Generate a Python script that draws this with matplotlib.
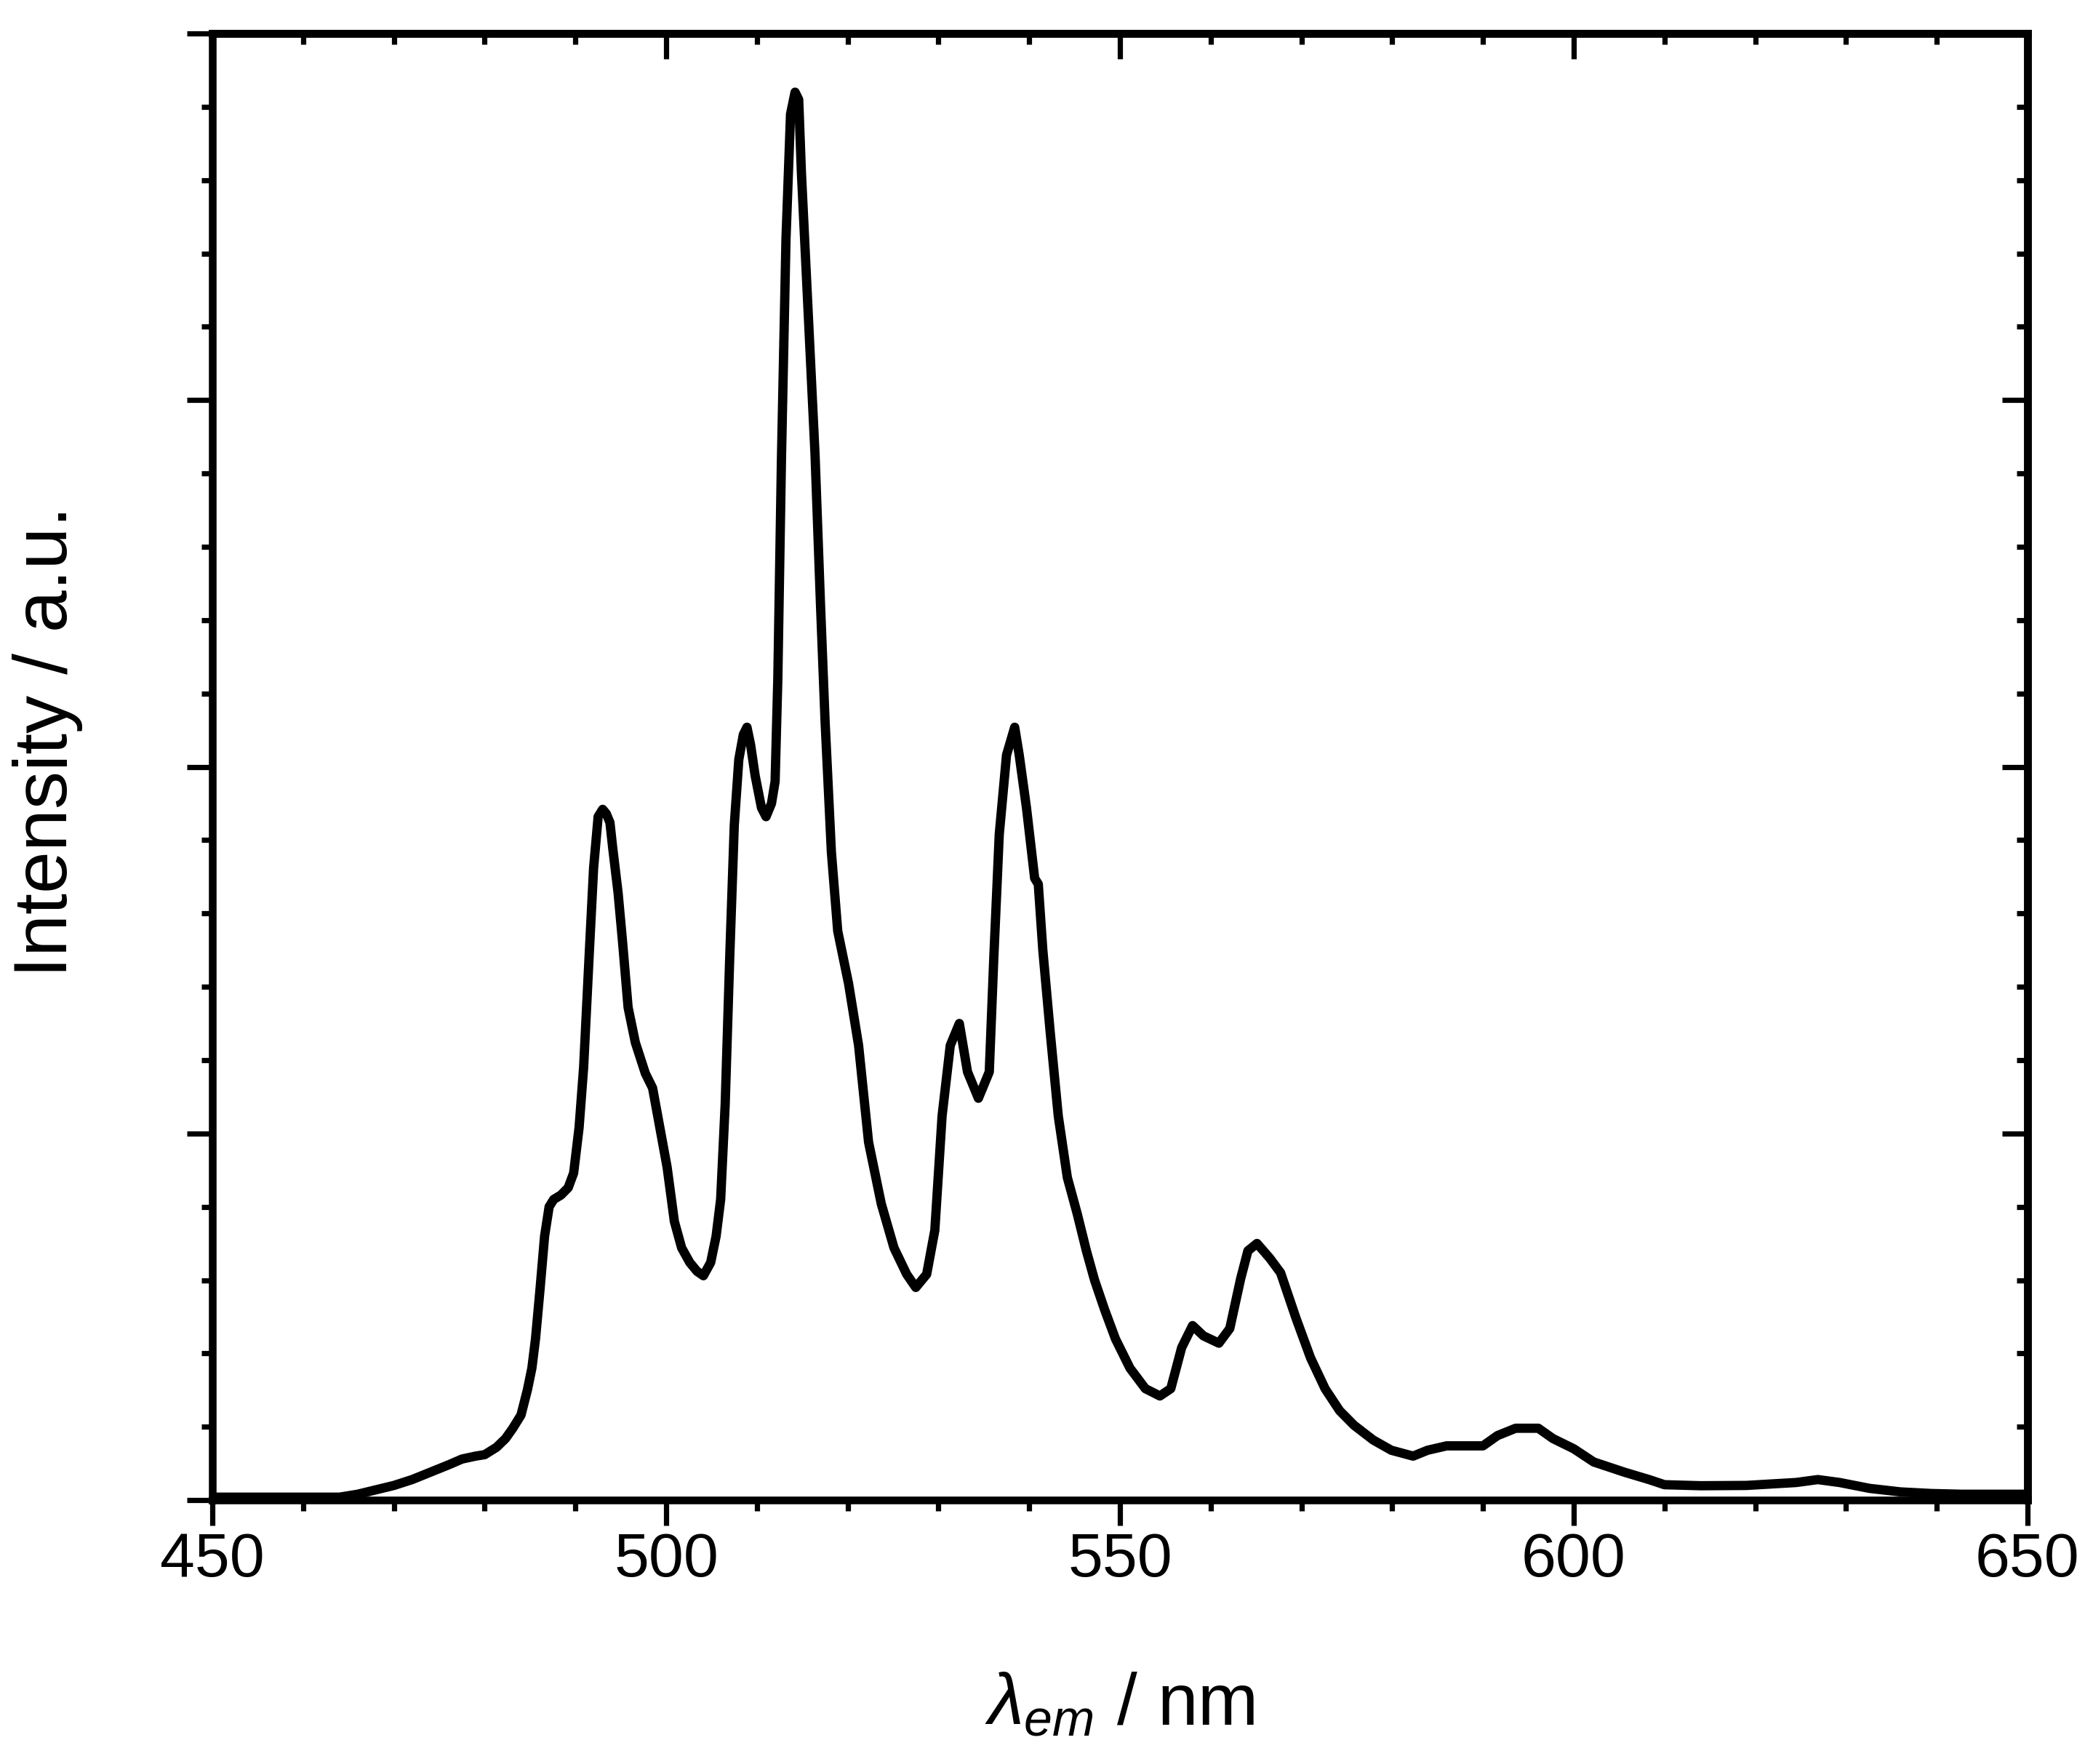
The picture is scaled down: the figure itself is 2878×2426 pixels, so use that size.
import matplotlib
matplotlib.use("Agg")
import matplotlib.pyplot as plt
from matplotlib.ticker import MultipleLocator, NullFormatter

# emission spectrum (nm, normalised intensity)
wavelength = [450, 455, 460, 464, 466, 468, 470, 472, 474, 476, 477.5, 479, 480,
              481.3, 482.3, 483.1, 484, 484.7, 485.2, 485.6, 486.1, 486.6, 487.1,
              487.6, 488.4, 489.2, 489.8, 490.4, 490.9, 491.5, 492, 492.5, 493.0,
              493.4, 493.8, 494.1, 494.7, 495.2, 495.8, 496.6, 497.7, 498.5, 499.3,
              500.1, 500.9, 501.7, 502.6, 503.4, 504.1, 504.9, 505.5, 506.0, 506.5,
              507.0, 507.5, 508.0, 508.5, 508.9, 509.3, 509.8, 510.5, 511.0, 511.6,
              512.0, 512.3, 512.7, 513.2, 513.7, 514.2, 514.6, 514.9, 515.7, 516.4,
              517.0, 517.5, 518.2, 518.9, 520.1, 521.2, 522.3, 523.7, 525.1, 526.5,
              527.5, 528.7, 529.6, 530.4, 531.3, 532.3, 533.2, 534.4, 535.6, 536.1,
              536.7, 537.5, 538.4, 538.9, 539.7, 540.6, 541.0, 541.5, 542.3, 543.2,
              544.2, 545.3, 546.3, 547.2, 548.3, 549.5, 551.1, 552.8, 554.4, 555.6,
              556.8, 558.0, 559.2, 560.9, 562.1, 563.3, 564.1, 565.1, 566.5, 567.7,
              569.4, 571.0, 572.6, 574.2, 575.8, 577.9, 579.9, 582.3, 583.9, 586.0,
              590.0, 591.6, 593.6, 596.1, 597.7, 600.0, 602.2, 605.6, 608.3, 610.0,
              614, 619, 624.5, 626.9, 629.3, 632.6, 636, 639.4, 642.7, 650]
intensity = [0.002, 0.002, 0.002, 0.002, 0.004, 0.007, 0.010, 0.014, 0.019, 0.024, 0.028,
             0.030, 0.031, 0.036, 0.042, 0.049, 0.058, 0.075, 0.090, 0.110, 0.144, 0.180,
             0.200, 0.205, 0.208, 0.213, 0.223, 0.254, 0.295, 0.370, 0.431, 0.466, 0.471,
             0.468, 0.462, 0.445, 0.414, 0.380, 0.336, 0.312, 0.291, 0.281, 0.254, 0.227,
             0.190, 0.172, 0.162, 0.156, 0.153, 0.162, 0.180, 0.205, 0.270, 0.370, 0.460,
             0.505, 0.522, 0.527, 0.515, 0.494, 0.472, 0.466, 0.475, 0.490, 0.560, 0.710,
             0.860, 0.945, 0.960, 0.955, 0.905, 0.803, 0.713, 0.611, 0.532, 0.442, 0.388,
             0.352, 0.310, 0.244, 0.202, 0.172, 0.154, 0.145, 0.154, 0.184, 0.262, 0.310,
             0.325, 0.292, 0.274, 0.292, 0.370, 0.454, 0.508, 0.527, 0.508, 0.472, 0.424,
             0.420, 0.375, 0.320, 0.262, 0.220, 0.195, 0.170, 0.150, 0.130, 0.110, 0.090,
             0.076, 0.071, 0.076, 0.104, 0.119, 0.112, 0.107, 0.117, 0.151, 0.170, 0.175,
             0.165, 0.155, 0.124, 0.097, 0.076, 0.061, 0.051, 0.041, 0.034, 0.030, 0.034,
             0.037, 0.037, 0.044, 0.049, 0.049, 0.042, 0.035, 0.026, 0.019, 0.014, 0.0105,
             0.0098, 0.010, 0.012, 0.014, 0.012, 0.008, 0.0056, 0.0045, 0.004, 0.004]

plt.rcParams['font.family'] = ['Liberation Sans', 'DejaVu Sans']
plt.rcParams['mathtext.fontset'] = 'custom'
plt.rcParams['mathtext.rm'] = 'Liberation Sans'
plt.rcParams['mathtext.it'] = 'Liberation Sans:italic'

fig = plt.figure(figsize=(14.39, 12.13), dpi=200)
ax = fig.add_axes([0.1015, 0.1496, 0.8672, 0.8314])

ax.plot(wavelength, intensity, color="black", lw=4.6)
ax.set_xlim(450, 650)
ax.set_ylim(0, 1.0)

for s in ax.spines.values():
    s.set_linewidth(3.8)

ax.xaxis.set_major_locator(MultipleLocator(50))
ax.xaxis.set_minor_locator(MultipleLocator(10))
ax.yaxis.set_major_locator(MultipleLocator(0.25))
ax.yaxis.set_minor_locator(MultipleLocator(0.05))
ax.tick_params(which='both', direction='out', width=2.6, top=False, right=False,
               labelleft=False, labelsize=31, pad=3)
ax.tick_params(which='major', length=12.5)
ax.tick_params(which='minor', length=5.5)

# top and right ticks point inward
secx = ax.secondary_xaxis('top')
secx.xaxis.set_major_locator(MultipleLocator(50))
secx.xaxis.set_minor_locator(MultipleLocator(10))
secx.xaxis.set_major_formatter(NullFormatter())
secy = ax.secondary_yaxis('right')
secy.yaxis.set_major_locator(MultipleLocator(0.25))
secy.yaxis.set_minor_locator(MultipleLocator(0.05))
secy.yaxis.set_major_formatter(NullFormatter())
for sa in (secx, secy):
    sa.tick_params(which='both', direction='in', width=2.6)
    sa.tick_params(which='major', length=12.5)
    sa.tick_params(which='minor', length=5.5)
    for s in sa.spines.values():
        s.set_linewidth(3.8)

ax.set_xlabel(r'$\mathit{\lambda}_{em}$ / nm', fontsize=36, va='baseline')
ax.xaxis.set_label_coords(0.5, -0.1537)
ax.set_ylabel('Intensity / a.u.', fontsize=37.5)
ax.yaxis.set_label_coords(-0.0715, 0.517)

fig.savefig("out.png", dpi=200)
